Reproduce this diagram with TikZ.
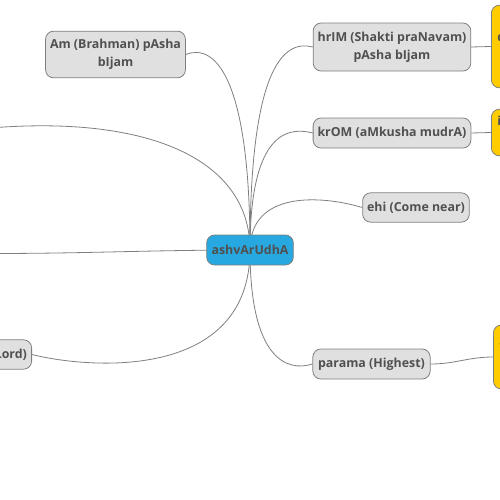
\documentclass[tikz,border=0pt]{standalone}
\usepackage{fontspec}
\setmainfont{Open Sans}
\usepackage{xcolor}
\usetikzlibrary{backgrounds}
\definecolor{rootblue}{HTML}{27A8E0}
\definecolor{topicgray}{HTML}{E0E0E0}
\definecolor{edgegray}{HTML}{7F7F7F}
\definecolor{textgray}{HTML}{505050}
\definecolor{leafyellow}{HTML}{FFCC00}
\tikzset{
  rootbox/.style={rectangle, draw=edgegray, fill=rootblue, rounded corners=6pt,
                  text=textgray, font=\fontsize{9.3}{13.5}\selectfont\bfseries,
                  minimum width=65pt, minimum height=22.5pt, line width=0.6pt},
  topicbox/.style={rectangle, draw=edgegray, fill=topicgray, rounded corners=6pt,
                   text=textgray, font=\fontsize{9.3}{13.5}\selectfont\bfseries,
                   align=center, minimum height=22.5pt, line width=0.6pt},
  leafbox/.style={rectangle, draw=edgegray, fill=leafyellow, rounded corners=6pt,
                  text=textgray, font=\fontsize{9.3}{13.5}\selectfont\bfseries,
                  text width=40pt, align=left, inner xsep=4.5pt, inner ysep=0pt,
                  anchor=west, line width=0.6pt},
  link/.style={draw=edgegray, line width=0.6pt},
}
\begin{document}
\begin{tikzpicture}[x=0.75pt, y=-0.75pt]
  \path[use as bounding box, clip] (0,0) rectangle (500,500);

  % --- Central topic ---
  \node[rootbox] (root) at (250,250) {ashvArUdhA};

  % --- Left branches ---
  \node[topicbox, minimum width=104pt, minimum height=35pt] (am) at (115.5,54.5)
       {Am (Brahman) pAsha\\bIjam};
  \node[topicbox, anchor=east, text width=90pt, align=right, inner xsep=3.5pt,
        minimum height=22pt] (lord) at (32,354.5) {Lord)};
  \coordinate (offtop) at (-10,128);
  \coordinate (offmid) at (-10,253.5);

  % --- Right branches ---
  \node[topicbox, minimum width=117pt, minimum height=36pt] (hrim) at (392,47)
       {hrIM (Shakti praNavam)\\pAsha bIjam};
  \node[topicbox, minimum width=117pt] (krom) at (392,133) {krOM (aMkusha mudrA)};
  \node[topicbox, minimum width=79.5pt, minimum height=22pt] (ehi) at (416,207.5) {ehi (Come near)};
  \node[topicbox, minimum width=88pt] (parama) at (371.5,364) {parama (Highest)};

  % --- Leaves (cut at the edge) ---
  \node[leafbox, text height=27pt, text depth=35pt] (dleaf) at (491,46.5) {d};
  \node[leafbox, text height=12pt, text depth=23pt] (ileaf) at (491,132.5) {i};
  \node[leafbox, text height=15pt, text depth=33pt] (sleaf) at (493,357) {S};

  % --- Connectors ---
  \begin{scope}[on background layer]
    \draw[link] (root.center) .. controls +(0,-170) and +(30,-12) .. (am.east);
    \draw[link] (root.center) .. controls (250,160) and (150,115) .. (offtop);
    \draw[link] (root.center) to[out=180, in=0] (offmid);
    \draw[link] (root.center) .. controls +(0,130) and +(60,15) .. (lord.east);
    \draw[link] (root.center) .. controls +(0,-180) and +(-30,-8) .. (hrim.west);
    \draw[link] (root.center) .. controls +(0,-110) and +(-30,-8) .. (krom.west);
    \draw[link] (root.center) .. controls +(0,-60) and +(-40,-12) .. (ehi.west);
    \draw[link] (root.center) .. controls +(0,110) and +(-25,8) .. (parama.west);
    \draw[link] (hrim.east) -- (dleaf.west);
    \draw[link] (krom.east) -- (ileaf.west);
    \draw[link] (parama.east) to[out=0, in=180] (sleaf.west);
  \end{scope}
\end{tikzpicture}
\end{document}
